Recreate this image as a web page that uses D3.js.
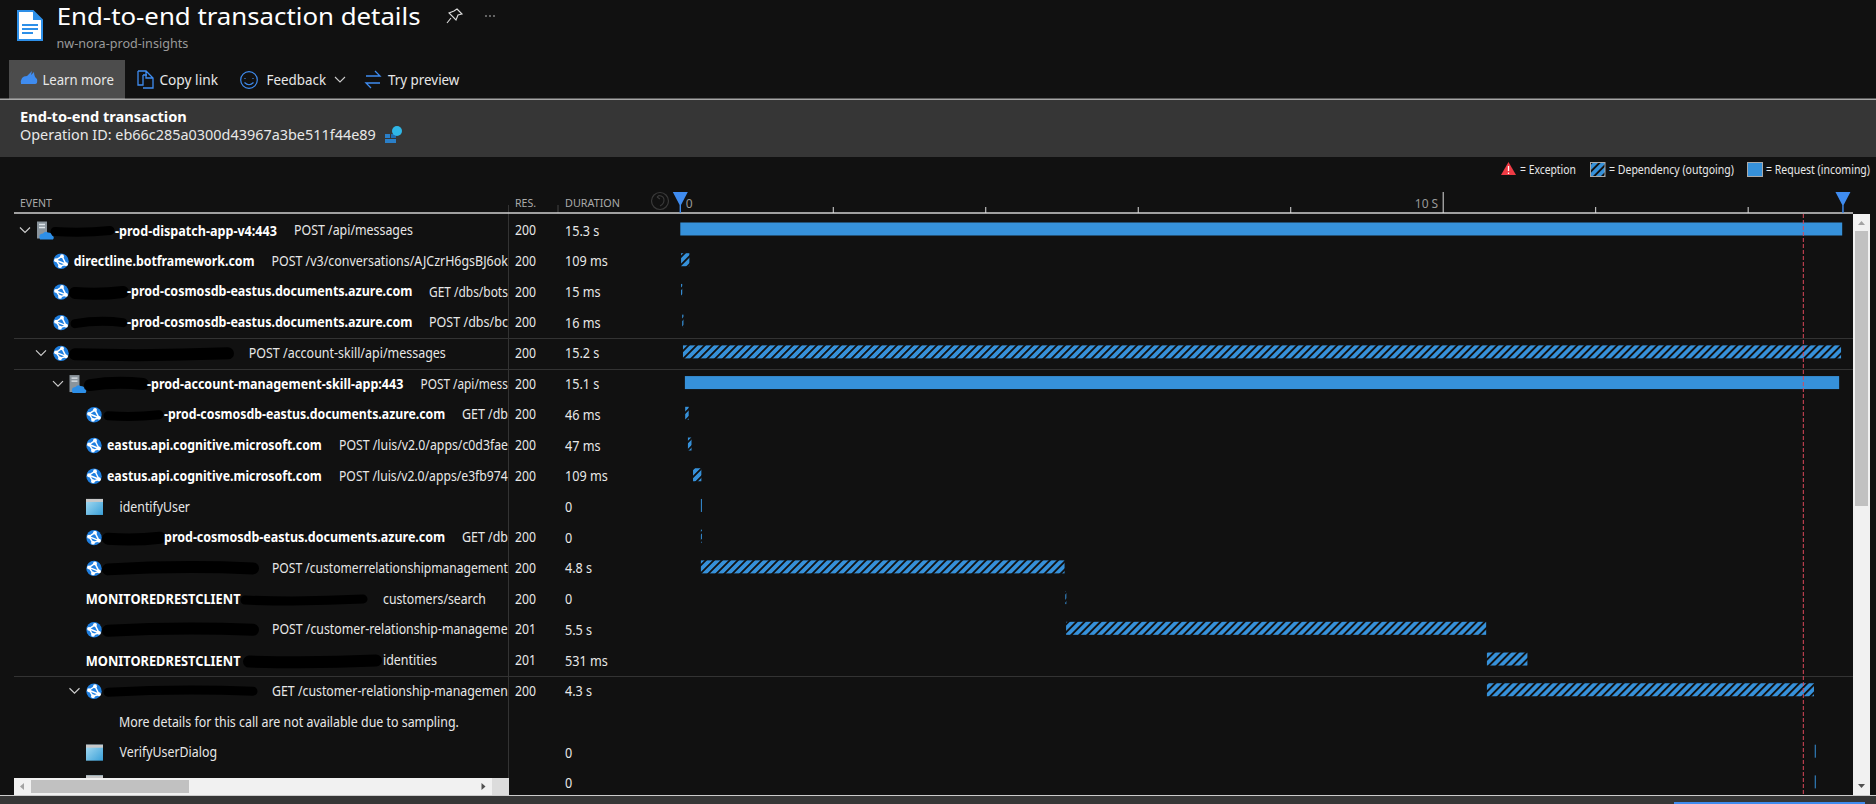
<!DOCTYPE html>
<html lang="en">

<head>
    <meta charset="UTF-8">
    <title>End-to-end transaction details</title>
    <script src="https://d3js.org/d3.v7.min.js"></script>
    <style>
        html, body {
            margin: 0;
            padding: 0;
            background-color: #111;
            overflow: hidden;
        }

        svg {
            display: block;
        }

        text {
            font-family: "Noto Sans", sans-serif;
            fill: #e8e8e8;
            dominant-baseline: central;
        }

        .bold {
            font-weight: 700;
            fill: #fff;
        }

        .head {
            fill: #aaa;
        }

        .tick text {
            font-size: 12px;
            fill: #999;
        }

        .tick line {
            stroke: #ddd;
        }
    </style>
</head>

<body>
    <div id="chart"></div>

    <script>
        // Values
        var eventHosts = ["-prod-dispatch-app-v4:443", "directline.botframework.com",
            "-prod-cosmosdb-eastus.documents.azure.com", "-prod-cosmosdb-eastus.documents.azure.com", "",
            "-prod-account-management-skill-app:443", "-prod-cosmosdb-eastus.documents.azure.com",
            "eastus.api.cognitive.microsoft.com", "eastus.api.cognitive.microsoft.com", "",
            "prod-cosmosdb-eastus.documents.azure.com", "", "MONITOREDRESTCLIENT", "", "MONITOREDRESTCLIENT",
            "", "", "", ""];
        var eventPaths = ["POST /api/messages", "POST /v3/conversations/AJCzrH6gsBJ6ok", "GET /dbs/bots",
            "POST /dbs/bc", "POST /account-skill/api/messages", "POST /api/mess", "GET /db",
            "POST /luis/v2.0/apps/c0d3fae", "POST /luis/v2.0/apps/e3fb974", "identifyUser", "GET /db",
            "POST /customerrelationshipmanagement", "customers/search", "POST /customer-relationship-manageme",
            "identities", "GET /customer-relationship-managemen",
            "More details for this call are not available due to sampling.", "VerifyUserDialog", ""];
        var resCodes = ["200", "200", "200", "200", "200", "200", "200", "200", "200", "", "200", "200",
            "200", "201", "201", "200", "", "", ""];
        var durationLabels = ["15.3 s", "109 ms", "15 ms", "16 ms", "15.2 s", "15.1 s", "46 ms", "47 ms",
            "109 ms", "0", "0", "4.8 s", "0", "5.5 s", "531 ms", "4.3 s", "", "0", "0"];
        var eventKinds = ["request", "dependency", "dependency", "dependency", "dependency", "request",
            "dependency", "dependency", "dependency", "trace", "dependency", "dependency", "dependency",
            "dependency", "dependency", "dependency", null, "trace", "trace"];
        var startSeconds = [0, 0.01, 0.01, 0.025, 0.035, 0.06, 0.064, 0.1, 0.167, 0.27, 0.27, 0.27, 5.05,
            5.06, 10.58, 10.58, null, 14.88, 14.88];
        var durationSeconds = [15.24, 0.109, 0.015, 0.016, 15.19, 15.14, 0.046, 0.047, 0.109, 0, 0, 4.77, 0,
            5.51, 0.531, 4.29, null, 0, 0];
        var tickSeconds = [0, 2, 4, 6, 8, 10, 12, 14];
        var handleSeconds = [0, 15.25];
        var markerSeconds = 14.73;
        var legendLabels = ["= Exception", "= Dependency (outgoing)", "= Request (incoming)"];

        // Text placement of the event column, one entry per row
        var rowIcons = ["app", "globe", "globe", "globe", "globe", "app", "globe", "globe", "globe", "page",
            "globe", "globe", null, "globe", null, "globe", null, "page", "page"];
        var iconX = [45, 61, 61, 61, 61, 77.5, 94, 94, 94, 94.5, 94, 94, 0, 94, 0, 94, 0, 94.5, 94.5];
        var chevronX = [25, null, null, null, 41, 58, null, null, null, null, null, null, null, null, null,
            74.5, null, null, null];
        var hostX = [115, 73.7, 127, 127, 0, 147, 164, 107, 107, 0, 164, 0, 85.7, 0, 85.7, 0, 0, 0, 0];
        var hostW = [162, 181, 286, 286, 0, 256.6, 281.5, 215, 215, 0, 281.5, 0, 155, 0, 155, 0, 0, 0, 0];
        var pathX = [294, 271.4, 429, 429, 248.7, 420.5, 462, 339, 339, 119.6, 462, 272, 383, 272, 383, 272,
            119, 119.6, 0];
        var pathEnd = [413, 508, 508, 508, 446, 508, 508, 508, 508, 190, 508, 508, 486, 508, 437, 508, 459,
            217, 0];
        var redactions = [[51, 114], null, [71, 127], [71, 127], [71, 232], [86, 147], [104, 163], null, null,
            null, [104, 164], [104, 257], [241, 367], [104, 257], [245, 380], [104, 257], null, null, null];

        var width = 1876, height = 804;
        var blue = "#3691da", accent = "#3f8cf0", panel = "#363636";
        var columnEnd = 508.5, tableLeft = 14, tableRight = 1853, axisY = 213, tableBottom = 795;

        var svg = d3.select("#chart").append("svg")
            .attr("width", width)
            .attr("height", height);

        var defs = svg.append("defs");

        // Hatch used by dependency bars
        var hatch = defs.append("pattern")
            .attr("id", "hatch")
            .attr("patternUnits", "userSpaceOnUse")
            .attr("width", 5.66)
            .attr("height", 5.66)
            .attr("patternTransform", "rotate(45)");
        hatch.append("rect").attr("width", 5.66).attr("height", 5.66).attr("fill", blue);
        hatch.append("rect").attr("width", 1.9).attr("height", 5.66).attr("fill", "#111");

        var pageFill = defs.append("linearGradient").attr("id", "pageFill")
            .attr("x1", 0).attr("y1", 0).attr("x2", 1).attr("y2", 1);
        pageFill.append("stop").attr("offset", "0%").attr("stop-color", "#a8dcf2");
        pageFill.append("stop").attr("offset", "100%").attr("stop-color", "#3aa0d8");

        // Places a text and squeezes it to the width it has in the reference
        function label(parent, x, y, value, size, targetWidth, className) {
            var node = parent.append("text")
                .attr("font-size", size)
                .attr("class", className || null)
                .text(value);
            var natural = node.node().getComputedTextLength();
            var k = targetWidth ? targetWidth / natural : 0.87;
            node.attr("transform", "translate(" + x + "," + y + ") scale(" + k + ",1)");
            return node;
        }

        // Page header
        var header = svg.append("g");
        header.append("path")
            .attr("d", "M18,11 H33 L42,20 V40 H18 Z")
            .attr("fill", "#fff").attr("stroke", "#2d8fe8").attr("stroke-width", 2);
        header.append("path").attr("d", "M33,11 V20 H42 Z").attr("fill", "#2d8fe8");
        header.append("path").attr("d", "M22,25 H38 M22,29 H38 M22,33 H33")
            .attr("stroke", "#2d8fe8").attr("stroke-width", 2);
        label(header, 56.7, 15.5, "End-to-end transaction details", 24, 364).style("fill", "#fff");
        label(header, 56.5, 43, "nw-nora-prod-insights", 13.5, 132).style("fill", "#9a9a9a");
        header.append("path")
            .attr("d", "M457,9 L462,14 L458,15 L456,20 L449,13 L454,11 Z M451,18 L447,23")
            .attr("fill", "none").attr("stroke", "#ddd").attr("stroke-width", 1.1);
        header.selectAll(".dot").data([486, 490, 494]).enter().append("circle")
            .attr("cx", function (d) {return d;}).attr("cy", 16).attr("r", 0.8).attr("fill", "#ccc");

        // Toolbar
        header.append("rect").attr("x", 9).attr("y", 60).attr("width", 116).attr("height", 39).attr("fill", "#4c4c4c");
        header.append("path")
            .attr("d", "M21,84 Q20,76 27,76 L32,71 L31,75 L34,72 Q34,77 37,79 Q38,84 35,84 Z")
            .attr("fill", accent);
        label(header, 42.4, 79, "Learn more", 14.5, 71.6);
        header.append("path")
            .attr("d", "M138,71 H146 L153,78 V88 H143 M146,71 V78 H153 M138,71 V85 H143 V75 M143,75 H147")
            .attr("fill", "none").attr("stroke", accent).attr("stroke-width", 1.3);
        label(header, 159.4, 79, "Copy link", 14.5, 58.6);
        header.append("circle").attr("cx", 249).attr("cy", 80).attr("r", 8.3)
            .attr("fill", "none").attr("stroke", accent).attr("stroke-width", 1.2);
        header.append("path")
            .attr("d", "M245,78 V79 M253,78 V79 M244.5,82.5 Q249,87 253.5,82.5")
            .attr("fill", "none").attr("stroke", accent).attr("stroke-width", 1.1);
        label(header, 266.5, 79.5, "Feedback", 14.5, 59.6);
        header.append("path").attr("d", "M335,77 L340,82 L345,77")
            .attr("fill", "none").attr("stroke", "#ccc").attr("stroke-width", 1.1);
        header.append("path")
            .attr("d", "M366,76 H380 L375,71 M380,83 H366 L371,88")
            .attr("fill", "none").attr("stroke", accent).attr("stroke-width", 1.3);
        label(header, 388, 79, "Try preview", 14.5, 71.5);

        // Transaction panel
        header.append("rect").attr("x", 0).attr("y", 100).attr("width", width).attr("height", 57).attr("fill", panel);
        header.append("rect").attr("x", 0).attr("y", 98.6).attr("width", width).attr("height", 1.2).attr("fill", "#ccc");
        label(header, 20, 116.5, "End-to-end transaction", 14.5, 167, "bold");
        label(header, 20, 134.5, "Operation ID: eb66c285a0300d43967a3be511f44e89", 14.5, 356);
        header.append("rect").attr("x", 385).attr("y", 134).attr("width", 5).attr("height", 4).attr("fill", "#2a7fc8");
        header.append("rect").attr("x", 391).attr("y", 134).attr("width", 5).attr("height", 4).attr("fill", "#1f6cb0");
        header.append("rect").attr("x", 385).attr("y", 139).attr("width", 11).attr("height", 4).attr("fill", "#2a7fc8");
        header.append("circle").attr("cx", 397).attr("cy", 131).attr("r", 5).attr("fill", "#2fb6e6");

        // Legend
        var legend = svg.append("g");
        legend.append("path").attr("d", "M1508.5,162 L1516,175 H1501 Z").attr("fill", "#ee3b45");
        legend.append("path").attr("d", "M1508.5,166 V171 M1508.5,172.5 V174").attr("stroke", "#fff").attr("stroke-width", 1.3);
        label(legend, 1520, 169.5, legendLabels[0], 12.2, 56);
        legend.append("rect").attr("x", 1590.5).attr("y", 162.5).attr("width", 14.5).attr("height", 14)
            .attr("fill", "url(#hatch)").attr("stroke", "#aaa");
        label(legend, 1609, 169.5, legendLabels[1], 12.2, 125);
        legend.append("rect").attr("x", 1747.5).attr("y", 162.5).attr("width", 15).attr("height", 14)
            .attr("fill", blue).attr("stroke", "#aaa");
        label(legend, 1766, 169.5, legendLabels[2], 12.2, 104);

        // Scales
        var x = d3.scaleLinear().domain([0, 10]).range([680.3, 1442.7]);
        var y = d3.scalePoint().domain(d3.range(eventHosts.length)).range([230.5, 783.4]);

        // Table header
        var tableHead = svg.append("g");
        label(tableHead, 20, 202, "EVENT", 11, 32, "head");
        label(tableHead, 515, 202, "RES.", 11, 21, "head");
        label(tableHead, 565, 202, "DURATION", 11, 55, "head");
        tableHead.append("circle").attr("cx", 660).attr("cy", 201).attr("r", 8.5)
            .attr("fill", "none").attr("stroke", "#3a3a3a").attr("stroke-width", 1.2);
        tableHead.append("path").attr("d", "M657,197 L659,195.5 Q664,196 664,200 Q664,204 660,206 M657,197 L660,199")
            .attr("fill", "none").attr("stroke", "#3a3a3a").attr("stroke-width", 1.1);
        tableHead.append("line").attr("x1", 558).attr("x2", 558).attr("y1", 205).attr("y2", axisY).attr("stroke", "#444");

        // Row dividers and column line
        svg.selectAll(".divider").data([4, 5, 15]).enter().append("line")
            .attr("class", "divider")
            .attr("x1", tableLeft).attr("x2", tableRight)
            .attr("y1", function (d) {return Math.round((y(d - 1) + y(d)) / 2) + 0.5;})
            .attr("y2", function (d) {return Math.round((y(d - 1) + y(d)) / 2) + 0.5;})
            .attr("stroke", "#333");
        svg.append("line").attr("x1", columnEnd).attr("x2", columnEnd).attr("y1", 205).attr("y2", tableBottom).attr("stroke", "#333");

        // Bars
        svg.selectAll(".bar")
            .data(d3.range(eventKinds.length).filter(function (i) {return eventKinds[i] !== null;}))
            .enter().append("rect")
            .attr("class", "bar")
            .attr("x", function (i) {return x(startSeconds[i]);})
            .attr("y", function (i) {return y(i) - 8;})
            .attr("width", function (i) {return Math.max(1, x(startSeconds[i] + durationSeconds[i]) - x(startSeconds[i]));})
            .attr("height", 13)
            .attr("fill", function (i) {return eventKinds[i] === "dependency" ? "url(#hatch)" : blue;});

        // Marker line
        svg.append("line")
            .attr("x1", x(markerSeconds)).attr("x2", x(markerSeconds))
            .attr("y1", axisY + 1).attr("y2", tableBottom)
            .attr("stroke", "#d9485a").attr("stroke-dasharray", "4 2");

        // Time axis
        var axis = svg.append("g")
            .attr("transform", "translate(0," + axisY + ")")
            .call(d3.axisTop(x)
                .tickValues(tickSeconds)
                .tickSize(6)
                .tickFormat(function (d) {return d === 0 ? "0" : d === 10 ? "10 S" : "";}));
        axis.select(".domain").remove();
        axis.selectAll(".tick text")
            .attr("y", -10)
            .attr("dy", null)
            .attr("text-anchor", function (d) {return d === 0 ? "start" : "end";})
            .attr("x", function (d) {return d === 0 ? 5 : -5;});
        axis.selectAll(".tick line").filter(function (d) {return d === 0;}).remove();
        axis.selectAll(".tick line").filter(function (d) {return d === 10;}).attr("y2", -21);
        svg.append("rect").attr("x", tableLeft).attr("y", axisY - 0.7).attr("width", tableRight - tableLeft).attr("height", 1.4).attr("fill", "#ddd");

        // Range handles
        svg.selectAll(".handle").data(handleSeconds).enter().append("path")
            .attr("class", "handle")
            .attr("transform", function (d) {return "translate(" + x(d) + ",0)";})
            .attr("d", "M-7.5,192 H7.5 L0.7,205 V213 H-0.7 V205 Z")
            .attr("fill", accent);

        // Event column
        var rows = svg.append("g");

        function drawGlobe(g, cx, cy) {
            g.append("circle").attr("cx", cx).attr("cy", cy).attr("r", 7.7).attr("fill", "#1f7fe0");
            g.append("path")
                .attr("d", "M" + (cx - 5) + "," + (cy - 1) + " L" + (cx + 1) + "," + (cy - 5) + " L" + (cx + 5) + "," + (cy + 3) + " L" + (cx - 1) + "," + (cy + 5) + " Z M" + (cx - 5) + "," + (cy - 1) + " L" + (cx + 5) + "," + (cy + 3))
                .attr("fill", "none").attr("stroke", "#fff").attr("stroke-width", 1.5);
            [[-5, -1], [1, -5], [5, 3], [-1, 5]].forEach(function (p) {
                g.append("circle").attr("cx", cx + p[0]).attr("cy", cy + p[1]).attr("r", 1.9).attr("fill", "#fff");
            });
        }

        function drawApp(g, cx, cy) {
            g.append("rect").attr("x", cx - 8).attr("y", cy - 9).attr("width", 10).attr("height", 17).attr("fill", "#8a949c");
            g.append("path").attr("d", "M" + (cx - 6) + "," + (cy - 6) + " h6 M" + (cx - 6) + "," + (cy - 3) + " h6")
                .attr("stroke", "#dfe5ea").attr("stroke-width", 1.3);
            g.append("path")
                .attr("d", "M" + (cx - 5) + "," + (cy + 9) + " q-2,-6 3,-6 q2,-3 5,-1 q4,0 4,3 q3,1 1,4 Z")
                .attr("fill", "#2d8fe8");
        }

        function drawPage(g, cx, cy) {
            g.append("rect").attr("x", cx - 8.5).attr("y", cy - 8).attr("width", 17).attr("height", 16).attr("fill", "url(#pageFill)");
            g.append("rect").attr("x", cx - 8.5).attr("y", cy - 8).attr("width", 17).attr("height", 3).attr("fill", "#c8c8c8");
        }

        eventPaths.forEach(function (path, i) {
            var cy = y(i);
            if (rowIcons[i] === "globe") drawGlobe(rows, iconX[i], cy);
            if (rowIcons[i] === "app") drawApp(rows, iconX[i], cy);
            if (rowIcons[i] === "page") drawPage(rows, iconX[i], cy);
            // Hand drawn black strokes over the blanked out names
            if (redactions[i]) {
                var x0 = redactions[i][0], x1 = redactions[i][1];
                var bend = i % 2 ? -3 : 3;
                rows.append("path")
                    .attr("d", "M" + (x0 + 4) + "," + (cy + 1) + " Q" + (x0 + x1) / 2 + "," + (cy + bend) + " " + (x1 - 4) + "," + cy)
                    .attr("fill", "none").attr("stroke", "#000").attr("stroke-width", i % 3 ? 12 : 9)
                    .attr("stroke-linecap", "round");
            }
            if (chevronX[i] !== null) {
                rows.append("path")
                    .attr("d", "M" + (chevronX[i] - 5) + "," + (cy - 3) + " l5,5 l5,-5")
                    .attr("fill", "none").attr("stroke", "#ccc").attr("stroke-width", 1.2);
            }
            if (eventHosts[i]) label(rows, hostX[i], cy - 0.8, eventHosts[i], 14.5, hostW[i], "bold");
            if (path) label(rows, pathX[i], cy - 0.8, path, 14.5, pathEnd[i] - pathX[i]);
        });

        resCodes.forEach(function (code, i) {
            if (code) label(svg, 515, y(i) - 0.8, code, 14.5, 21);
        });
        durationLabels.forEach(function (text, i) {
            if (text) label(svg, 565, y(i) - 0.8, text, 14.5);
        });

        // Scrollbars
        var bars = svg.append("g");
        bars.append("rect").attr("x", tableRight).attr("y", 214).attr("width", 17).attr("height", tableBottom - 214).attr("fill", "#f1f1f1");
        bars.append("rect").attr("x", 1855).attr("y", 231).attr("width", 13).attr("height", 275).attr("fill", "#c1c1c1");
        bars.append("path").attr("d", "M1861.5,221 L1865,225 H1858 Z").attr("fill", "#a3a3a3");
        bars.append("path").attr("d", "M1858,784 H1865 L1861.5,788 Z").attr("fill", "#505050");
        bars.append("rect").attr("x", tableLeft).attr("y", 778).attr("width", 478).attr("height", 17).attr("fill", "#f1f1f1");
        bars.append("rect").attr("x", 492).attr("y", 778).attr("width", 17).attr("height", 17).attr("fill", "#dcdcdc");
        bars.append("rect").attr("x", 31).attr("y", 780).attr("width", 158).attr("height", 13).attr("fill", "#c1c1c1");
        bars.append("path").attr("d", "M20,786.5 L24,783 V790 Z").attr("fill", "#a3a3a3");
        bars.append("path").attr("d", "M485.5,786.5 L481.5,783 V790 Z").attr("fill", "#505050");

        // Blade footer
        bars.append("rect").attr("x", 0).attr("y", tableBottom).attr("width", width).attr("height", 9).attr("fill", panel);
        bars.append("rect").attr("x", 0).attr("y", tableBottom).attr("width", width).attr("height", 1).attr("fill", "#ccc");
        bars.append("rect").attr("x", 1674).attr("y", 802).attr("width", 191).attr("height", 2).attr("fill", accent);
    </script>
</body>

</html>
